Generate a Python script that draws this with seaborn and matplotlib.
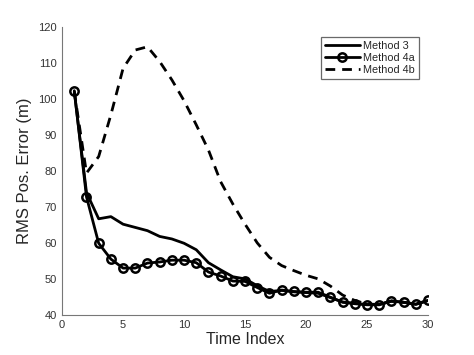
import matplotlib
matplotlib.use("Agg")
import matplotlib.pyplot as plt
import seaborn as sns
import pandas as pd

time_index = list(range(1, 31))
method3 = [102, 74, 66.7, 67.3, 65.2, 64.3, 63.4, 61.8, 61.1, 59.9, 58.1, 54.5, 52.5, 50.6, 50.0,
           48.1, 46.5, 46.8, 46.4, 46.2, 46.0, 44.8, 43.6, 43.2, 42.9, 42.9, 43.8, 43.5, 43.0, 44.0]
method4a = [102.3, 72.8, 59.9, 55.5, 53.0, 53.0, 54.4, 54.7, 55.2, 55.2, 54.5, 51.9, 50.8, 49.4, 49.3,
            47.6, 46.0, 46.9, 46.5, 46.3, 46.3, 44.9, 43.5, 43.1, 42.8, 42.8, 43.9, 43.5, 42.9, 44.0]
method4b = [102, 79.4, 84.0, 95.6, 108.5, 113.6, 114.5, 110.4, 105.3, 99.5, 92.8, 85.8, 77.0, 70.8, 65.2,
            60.0, 56.0, 53.7, 52.3, 51.0, 50.0, 48.0, 45.5, 44.0, 43.0, 42.9, 43.8, 43.5, 43.0, 44.0]
labels = ["Method 3", "Method 4a", "Method 4b"]

df = pd.DataFrame({"t": time_index, labels[0]: method3, labels[1]: method4a, labels[2]: method4b})

sns.set_style("white")
plt.rcParams["font.family"] = ["Liberation Sans", "DejaVu Sans"]

fig = plt.figure(figsize=(4.74, 3.55), dpi=100)
ax = fig.add_axes([0.131, 0.113, 0.772, 0.811])

sns.lineplot(data=df, x="t", y=labels[0], ax=ax, color="black", lw=2.0, label=labels[0])
sns.lineplot(data=df, x="t", y=labels[1], ax=ax, color="black", lw=2.0, marker="o",
             markersize=6, markerfacecolor="none", markeredgecolor="black", markeredgewidth=1.8,
             label=labels[1])
sns.lineplot(data=df, x="t", y=labels[2], ax=ax, color="black", lw=2.0, linestyle=(0, (3.5, 2.5)),
             label=labels[2])

ax.set_xlim(0, 30)
ax.set_ylim(40, 120)
ax.set_xticks(range(0, 31, 5))
ax.set_yticks(range(40, 121, 10))
ax.set_xlabel("Time Index", fontsize=11.5, labelpad=1)
ax.set_ylabel("RMS Pos. Error (m)", fontsize=12, labelpad=4)
ax.tick_params(direction="in", length=3, labelsize=8, colors="#333333", width=0.8, pad=4)
for s in ["top", "right"]:
    ax.spines[s].set_visible(False)
for s in ["left", "bottom"]:
    ax.spines[s].set_color("#777777")
    ax.spines[s].set_linewidth(0.8)

leg = ax.legend(loc="upper right", bbox_to_anchor=(0.99, 0.985), fontsize=7.8, frameon=True,
                fancybox=False, edgecolor="#444444", handlelength=3.2, borderpad=0.35,
                labelspacing=0.2, handletextpad=0.35)
leg.get_frame().set_linewidth(0.9)

fig.savefig("out.png", dpi=100)
